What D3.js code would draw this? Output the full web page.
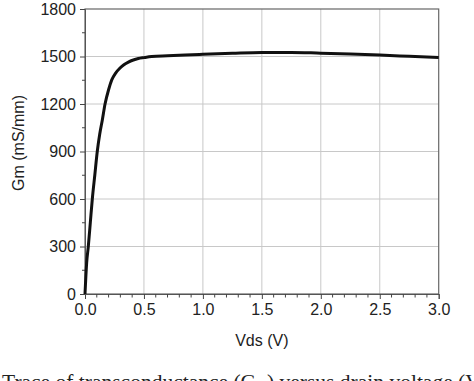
<!DOCTYPE html>
<html><head><meta charset="utf-8">
<script src="https://cdn.jsdelivr.net/npm/d3@7"></script>
<style>body{margin:0;background:#fff;}svg{display:block;}</style>
</head><body>
<svg id="chart" width="474" height="381"></svg>
<script>
const vds = [0, 0.014, 0.028, 0.045, 0.062, 0.083, 0.104, 0.125, 0.147, 0.17, 0.2, 0.227, 0.26, 0.297, 0.33, 0.368, 0.41, 0.452, 0.5, 0.566, 0.7, 0.85, 1.0, 1.25, 1.5, 1.75, 2.0, 2.25, 2.5, 2.75, 3.0];
const gm  = [0, 196, 300, 450, 600, 750, 900, 1010, 1099, 1200, 1290, 1352, 1395, 1427, 1448, 1465, 1478, 1487, 1493, 1500, 1505, 1510, 1514, 1520, 1525, 1526, 1521, 1516, 1509, 1501, 1493];
const xTicks = [0, 0.5, 1.0, 1.5, 2.0, 2.5, 3.0];
const yTicks = [0, 300, 600, 900, 1200, 1500, 1800];
const xLabel = "Vds (V)";
const yLabel = "Gm (mS/mm)";

const svg = d3.select("#chart");
const L = 85, T = 9, R = 438.7, B = 294;
const x = d3.scaleLinear().domain([0, 3]).range([L, R]);
const y = d3.scaleLinear().domain([0, 1800]).range([B, T]);
const font = "'Liberation Sans', Arial, sans-serif";

// grid
svg.append("g").selectAll("line").data(xTicks.slice(1, -1)).join("line")
  .attr("x1", d => x(d)).attr("x2", d => x(d)).attr("y1", T).attr("y2", B)
  .attr("stroke", "#c8c8c8").attr("stroke-width", 1);
svg.append("g").selectAll("line").data(yTicks.slice(1, -1)).join("line")
  .attr("y1", d => y(d)).attr("y2", d => y(d)).attr("x1", L).attr("x2", R)
  .attr("stroke", "#c8c8c8").attr("stroke-width", 1);

// frame
svg.append("rect").attr("x", L).attr("y", T).attr("width", R - L).attr("height", B - T)
  .attr("fill", "none").attr("stroke", "#666").attr("stroke-width", 1.2);

// x axis
const xAxis = d3.axisBottom(x).tickValues(xTicks).tickFormat(d3.format(".1f")).tickSize(5).tickPadding(5);
const gx = svg.append("g").attr("transform", `translate(0,${B})`).call(xAxis);
const xMinor = d3.range(0, 31).map(i => i / 10).filter(v => Math.round(v * 10) % 5 !== 0);
gx.selectAll(".minor").data(xMinor).join("line").attr("class", "minor")
  .attr("x1", d => x(d)).attr("x2", d => x(d)).attr("y1", 0).attr("y2", 3.5)
  .attr("stroke", "#444");

// y axis
const yAxis = d3.axisLeft(y).tickValues(yTicks).tickFormat(d3.format("d")).tickSize(5).tickPadding(4);
const gy = svg.append("g").attr("transform", `translate(${L},0)`).call(yAxis);
const yMinor = yTicks.slice(0, -1).map(v => v + 150);
gy.selectAll(".minor").data(yMinor).join("line").attr("class", "minor")
  .attr("y1", d => y(d)).attr("y2", d => y(d)).attr("x1", 0).attr("x2", -3)
  .attr("stroke", "#444");

[gx, gy].forEach(g => {
  g.select(".domain").attr("stroke", "#555");
  g.selectAll(".tick line").attr("stroke", "#444");
  g.selectAll(".tick text").attr("font-family", font).attr("font-size", 16).attr("fill", "#222");
});

// line
svg.append("path")
  .datum(vds.map((v, i) => [v, gm[i]]))
  .attr("fill", "none").attr("stroke", "#111").attr("stroke-width", 3)
  .attr("stroke-linejoin", "round")
  .attr("d", d3.line().x(d => x(d[0])).y(d => y(d[1])).curve(d3.curveMonotoneX));

// axis titles
svg.append("text").attr("x", (L + R) / 2).attr("y", 346).attr("text-anchor", "middle")
  .attr("font-family", font).attr("font-size", 16).attr("fill", "#222").text(xLabel);
svg.append("text").attr("transform", `translate(24,143) rotate(-90)`).attr("text-anchor", "middle")
  .attr("font-family", font).attr("font-size", 16).attr("fill", "#222").text(yLabel);

// caption (cut off at bottom, as in the reference)
const cap = svg.append("text").attr("x", 2).attr("y", 389)
  .attr("font-family", "'Liberation Serif', 'Times New Roman', serif").attr("font-size", 21.5).attr("fill", "#222");
cap.append("tspan").text("Trace of transconductance (G");
cap.append("tspan").attr("font-size", 14).attr("dy", 4).text("m");
cap.append("tspan").attr("dy", -4).text(") versus drain voltage (V");
</script>
</body></html>
